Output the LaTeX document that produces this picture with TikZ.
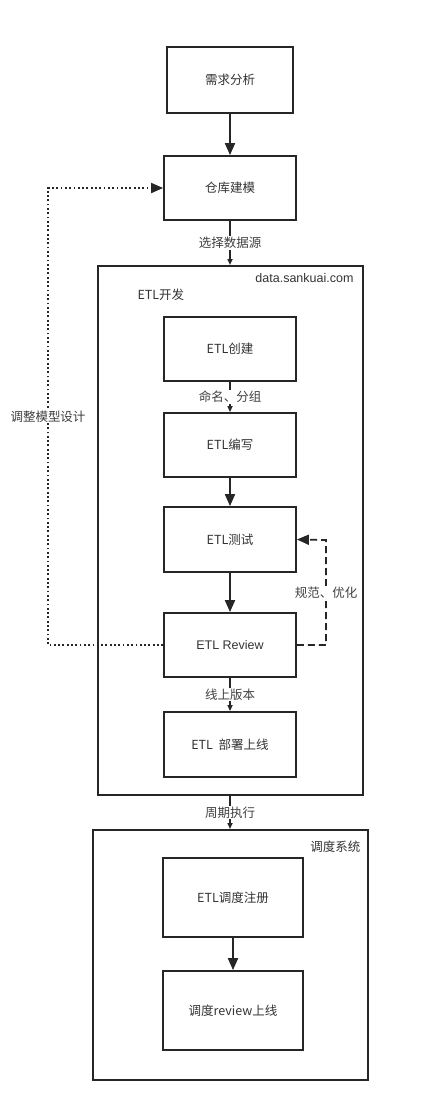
\documentclass[tikz,border=0pt]{standalone}
\usepackage{fontspec}
\setmainfont{Noto Sans CJK SC}
\newfontfamily\latinf{Liberation Sans}
\usetikzlibrary{arrows.meta}
\begin{document}
\begin{tikzpicture}[x=1pt,y=-1pt,
  font=\fontsize{12.5}{15}\selectfont,
  box/.style={draw=black!85, line width=1.8pt, fill=white},
  frame/.style={draw=black!85, line width=1.8pt},
  conn/.style={draw=black!85, line width=1.8pt},
  bigtip/.style={-{Triangle[length=12pt,width=10pt]}},
  smalltip/.style={-{Triangle[length=6pt,width=5pt]}},
  lab/.style={fill=white, inner sep=1pt, text=black!75},
  txt/.style={text=black!80}]
\useasboundingbox (0,0) rectangle (421,1112);
% outer frames
\node[frame, minimum width=265pt, minimum height=529pt, anchor=north west, inner sep=0pt] (dev) at (97,265) {};
\node[frame, minimum width=275pt, minimum height=250pt, anchor=north west, inner sep=0pt] (sch) at (92,829) {};
\node[txt, anchor=east, font=\latinf\fontsize{12.5}{15}\selectfont] (dom) at (357,278) {data.sankuai.com};
\node[txt, anchor=west] (devl) at (134,295) {ETL开发};
\node[txt, anchor=east] (schl) at (364,847) {调度系统};
% boxes
\node[box, minimum width=126pt, minimum height=66pt, txt] (req) at (230,80) {需求分析};
\node[box, minimum width=132pt, minimum height=64pt, txt] (model) at (230,188) {仓库建模};
\node[box, minimum width=132pt, minimum height=64pt, txt] (create) at (230,349) {ETL创建};
\node[box, minimum width=132pt, minimum height=64pt, txt] (write) at (230,445) {ETL编写};
\node[box, minimum width=132pt, minimum height=65pt, txt] (test) at (230,539.5) {ETL测试};
\node[box, minimum width=132pt, minimum height=64pt, txt] (review) at (230,645) {\latinf ETL Review};
\node[box, minimum width=132pt, minimum height=65pt, txt] (deploy) at (230,744.5) {ETL\ \ 部署上线};
\node[box, minimum width=140pt, minimum height=79pt, txt] (reg) at (233,897.5) {ETL调度注册};
\node[box, minimum width=140pt, minimum height=79pt, txt] (online) at (233,1010.5) {调度review上线};
% arrows
\draw[conn, bigtip] (req) -- (model);
\draw[conn, smalltip] (model) -- node[lab] (l1) {选择数据源} (model.south |- dev.north);
\draw[conn, smalltip] (create) -- node[lab] (l2) {命名、分组} (write);
\draw[conn, bigtip] (write) -- (test);
\draw[conn, bigtip] (test) -- (review);
\draw[conn, smalltip] (review) -- node[lab] (l3) {线上版本} (deploy);
\draw[conn, smalltip] (review.south |- dev.south) -- node[lab] (l4) {周期执行} (review.south |- sch.north);
\draw[conn, bigtip] (reg) -- (online);
% dashed feedback
\coordinate (dr) at (326,645);
\coordinate (dt) at (326,540);
\draw[conn, dash pattern=on 7pt off 4pt, bigtip] (review.east) -- (dr) -- node[lab, pos=0.5] (l5) {规范、优化} (dt) -- (test.east);
% dotted feedback
\coordinate (ob) at (48,645);
\coordinate (ot) at (48,188);
\draw[conn, dash pattern=on 1.8pt off 2.5pt, bigtip] (review.west) -- (ob) -- node[lab, pos=0.5] (l6) {调整模型设计} (ot) -- (model.west);
\end{tikzpicture}
\end{document}
